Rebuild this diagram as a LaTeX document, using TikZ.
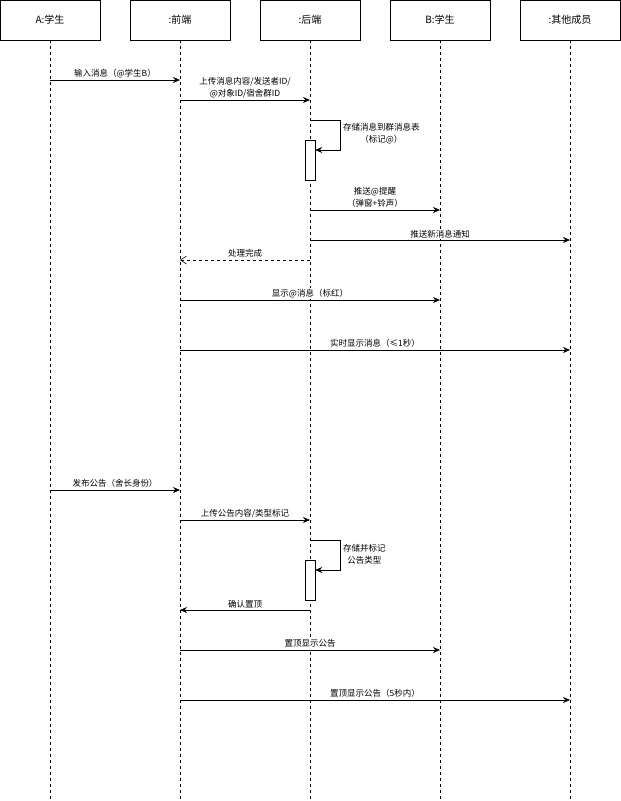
\documentclass[tikz,border=0pt]{standalone}
\usepackage{fontspec}
\setmainfont{Noto Sans CJK SC}
\usetikzlibrary{arrows.meta}
\begin{document}
\begin{tikzpicture}[x=1pt,y=-1pt,
  head/.style={draw,fill=white,minimum width=100pt,minimum height=40pt,inner sep=0pt,font=\fontsize{10}{12}\selectfont},
  life/.style={dashed,line width=0.5pt},
  msg/.style={-{Stealth[length=7pt,width=6pt]},line width=0.6pt},
  ret/.style={dashed,-{Straight Barb[length=6pt,width=8pt]},line width=0.6pt},
  lbl/.style={fill=white,inner sep=1pt,font=\fontsize{8.5}{12}\selectfont,align=center},
  act/.style={draw,fill=white,minimum width=10pt,minimum height=40pt,inner sep=0pt}]
\useasboundingbox (0,0) rectangle (621,801);
\foreach \n/\x/\t in {A/50/A:学生,F/180/:前端,S/310/:后端,B/440/B:学生,O/570/:其他成员}{
  \node[head] (\n) at (\x,20) {\t};
  \coordinate (\n e) at (\x,800);
  \draw[life] (\n.south) -- (\n e);
}
% first sequence
\draw[msg] (A.south|-0,80) -- node[lbl,above=1pt]{输入消息（@学生B）} (F.south|-0,80);
\draw[msg] (F.south|-0,100) -- node[lbl,above=1pt]{上传消息内容/发送者ID/\\@对象ID/宿舍群ID} (S.south|-0,100);
\node[act] (a1) at (310,160) {};
\coordinate (s1) at (310,120);
\draw[msg] (s1) -- ++(30,0) -- ++(0,30) -- (a1.east|-0,150);
\node[lbl,anchor=west,fill=none] (l1) at (342,134) {存储消息到群消息表\\（标记@）};
\draw[msg] (S.south|-0,210) -- node[lbl,above=1pt]{推送@提醒\\（弹窗+铃声）} (B.south|-0,210);
\draw[msg] (S.south|-0,240) -- node[lbl,above=1pt]{推送新消息通知} (O.south|-0,240);
\draw[ret] (S.south|-0,260) -- node[lbl,above=1pt]{处理完成} (F.south|-0,260);
\draw[msg] (F.south|-0,300) -- node[lbl,above=1pt]{显示@消息（标红）} (B.south|-0,300);
\draw[msg] (F.south|-0,350) -- node[lbl,above=1pt]{实时显示消息（≤1秒）} (O.south|-0,350);
% second sequence
\draw[msg] (A.south|-0,490) -- node[lbl,above=1pt]{发布公告（舍长身份）} (F.south|-0,490);
\draw[msg] (F.south|-0,520) -- node[lbl,above=1pt]{上传公告内容/类型标记} (S.south|-0,520);
\node[act] (a2) at (310,580) {};
\coordinate (s2) at (310,540);
\draw[msg] (s2) -- ++(30,0) -- ++(0,30) -- (a2.east|-0,570);
\node[lbl,anchor=west,fill=none] (l2) at (342,554) {存储并标记\\公告类型};
\draw[msg] (S.south|-0,610) -- node[lbl,above=1pt]{确认置顶} (F.south|-0,610);
\draw[msg] (F.south|-0,650) -- node[lbl,above=1pt]{置顶显示公告} (B.south|-0,650);
\draw[msg] (F.south|-0,700) -- node[lbl,above=1pt]{置顶显示公告（5秒内）} (O.south|-0,700);
\end{tikzpicture}
\end{document}
